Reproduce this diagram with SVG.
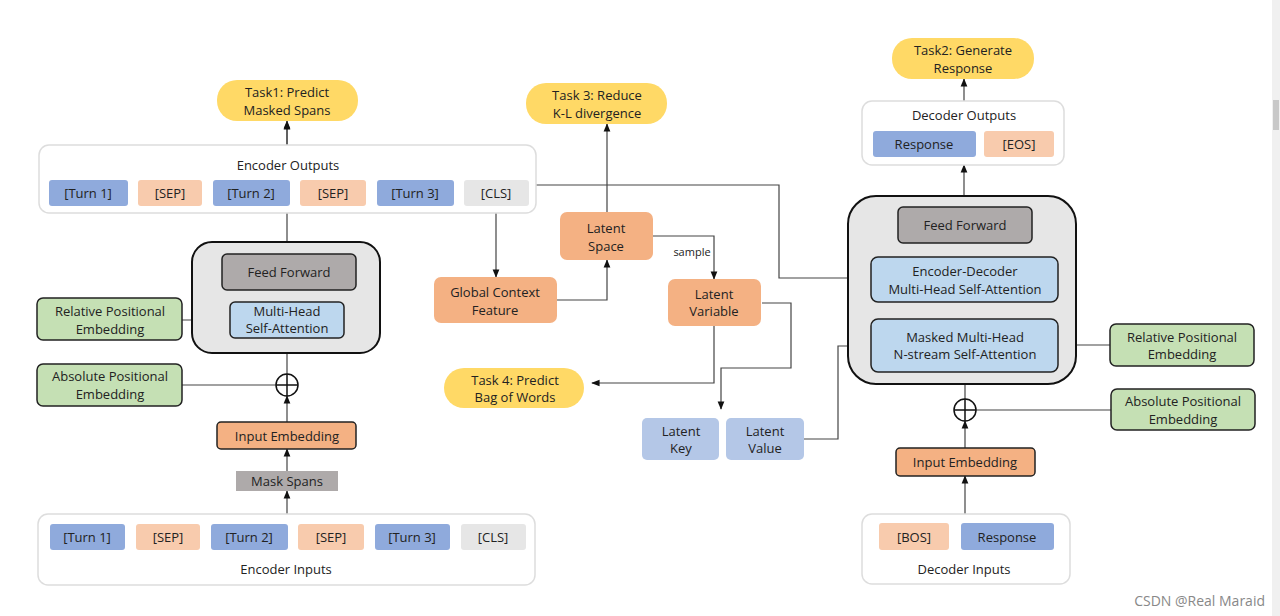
<svg xmlns="http://www.w3.org/2000/svg" width="1280" height="616" viewBox="0 0 1280 616">
<style>
text{font-family:"Open Sans","Liberation Sans",sans-serif;font-size:13px;fill:#222;text-anchor:middle;dominant-baseline:central}
.task{fill:#FFD966}
.tok-b{fill:#8FAADC}.tok-o{fill:#F8CBAD}.tok-g{fill:#E6E6E6}
.frame{fill:#fff;stroke:#DDD;stroke-width:1.5}
.blk{fill:#E6E6E6;stroke:#111;stroke-width:2}
.ff{fill:#AEAAAA;stroke:#222;stroke-width:1.5}
.att{fill:#BDD7EE;stroke:#222;stroke-width:1.5}
.pos{fill:#C5E0B4;stroke:#222;stroke-width:1.5}
.emb{fill:#F4B183;stroke:#222;stroke-width:1.5}
.lat{fill:#F4B183}
.kv{fill:#B4C7E7}
.ln{fill:none;stroke:#444;stroke-width:1.2}
</style>
<defs><marker id="a" viewBox="0 0 10 10" refX="9" refY="5" markerWidth="7" markerHeight="7" orient="auto"><path d="M0,1 L10,5 L0,9z" fill="#111"/></marker></defs>
<rect width="1280" height="616" fill="#fff"/>
<rect x="1272" y="0" width="8" height="616" fill="#F0F0F0"/>
<rect x="1273" y="100" width="6" height="30" fill="#C8C8C8"/>

<g id="connectors">
<path class="ln" d="M287,242 V213 M287,145 V121" marker-end="url(#a)"/>
<path class="ln" d="M287,145 V122" marker-end="url(#a)"/>
<path class="ln" d="M287,290 V302"/>
<path class="ln" d="M182,320 H230"/>
<path class="ln" d="M182,385 H276"/>
<path class="ln" d="M287,374 V338" marker-end="url(#a)"/>
<path class="ln" d="M287,422 V396" marker-end="url(#a)"/>
<path class="ln" d="M287,471 V449" marker-end="url(#a)"/>
<path class="ln" d="M287,514 V491" marker-end="url(#a)"/>
<path class="ln" d="M496,206 V277" marker-end="url(#a)"/>
<path class="ln" d="M557,300 H607 V260" marker-end="url(#a)"/>
<path class="ln" d="M607,212 V124" marker-end="url(#a)"/>
<path class="ln" d="M529,185 H779 V278 H871" marker-end="url(#a)"/>
<path class="ln" d="M653,236 H714 V279" marker-end="url(#a)"/>
<path class="ln" d="M714,326 V383 H592" marker-end="url(#a)"/>
<path class="ln" d="M762,303 H791 V368 H721 V409" marker-end="url(#a)"/>
<path class="ln" d="M804,439 H838 V346 H871" marker-end="url(#a)"/>
<path class="ln" d="M965,243 V257 M965,302 V319"/>
<path class="ln" d="M1058,345 H1110"/>
<path class="ln" d="M976,410 H1111"/>
<path class="ln" d="M965,399 V372" marker-end="url(#a)"/>
<path class="ln" d="M965,448 V421" marker-end="url(#a)"/>
<path class="ln" d="M965,514 V476" marker-end="url(#a)"/>
<path class="ln" d="M964,196 V165" marker-end="url(#a)"/>
<path class="ln" d="M964,101 V79" marker-end="url(#a)"/>
</g>

<g id="task1"><rect class="task" x="217" y="80" width="141" height="41" rx="20"/><text x="287" y="92">Task1: Predict</text><text x="287" y="110">Masked Spans</text></g>
<g id="encoder-outputs"><rect class="frame" x="39" y="145" width="497" height="68" rx="10"/><text x="288" y="165">Encoder Outputs</text>
<rect class="tok-b" x="49" y="180" width="79" height="26" rx="3"/><text x="88" y="193">[Turn 1]</text>
<rect class="tok-o" x="138" y="180" width="64" height="26" rx="3"/><text x="170" y="193">[SEP]</text>
<rect class="tok-b" x="213" y="180" width="77" height="26" rx="3"/><text x="251" y="193">[Turn 2]</text>
<rect class="tok-o" x="300" y="180" width="66" height="26" rx="3"/><text x="333" y="193">[SEP]</text>
<rect class="tok-b" x="377" y="180" width="77" height="26" rx="3"/><text x="415" y="193">[Turn 3]</text>
<rect class="tok-g" x="464" y="180" width="65" height="26" rx="3"/><text x="496" y="193">[CLS]</text></g>
<g id="encoder-block"><rect class="blk" x="192" y="242" width="188" height="111" rx="20"/>
<rect class="ff" x="222" y="254" width="134" height="36" rx="5"/><text x="289" y="272">Feed Forward</text>
<rect class="att" x="230" y="302" width="114" height="36" rx="5"/><text x="287" y="311">Multi-Head</text><text x="287" y="328">Self-Attention</text></g>
<g id="enc-rel"><rect class="pos" x="37" y="298" width="145" height="42" rx="6"/><text x="110" y="311">Relative Positional</text><text x="110" y="329">Embedding</text></g>
<g id="enc-abs"><rect class="pos" x="37" y="364" width="145" height="42" rx="6"/><text x="110" y="376">Absolute Positional</text><text x="110" y="394">Embedding</text></g>
<g id="enc-plus"><circle cx="287" cy="385" r="11" fill="#fff" stroke="#111" stroke-width="1.5"/><path d="M276,385 H298 M287,374 V396" stroke="#111" stroke-width="1.5"/></g>
<g id="enc-input-emb"><rect class="emb" x="217" y="422" width="139" height="27" rx="4"/><text x="287" y="436">Input Embedding</text></g>
<g id="mask-spans"><rect fill="#AEAAAA" x="236" y="471" width="102" height="20"/><text x="287" y="481">Mask Spans</text></g>
<g id="encoder-inputs"><rect class="frame" x="38" y="514" width="497" height="71" rx="10"/>
<rect class="tok-b" x="50" y="524" width="75" height="26" rx="3"/><text x="87" y="537">[Turn 1]</text>
<rect class="tok-o" x="136" y="524" width="64" height="26" rx="3"/><text x="168" y="537">[SEP]</text>
<rect class="tok-b" x="211" y="524" width="77" height="26" rx="3"/><text x="249" y="537">[Turn 2]</text>
<rect class="tok-o" x="298" y="524" width="66" height="26" rx="3"/><text x="331" y="537">[SEP]</text>
<rect class="tok-b" x="375" y="524" width="75" height="26" rx="3"/><text x="412" y="537">[Turn 3]</text>
<rect class="tok-g" x="461" y="524" width="65" height="26" rx="3"/><text x="493" y="537">[CLS]</text>
<text x="286" y="569">Encoder Inputs</text></g>

<g id="global-context"><rect class="lat" x="434" y="277" width="123" height="46" rx="7"/><text x="495" y="292">Global Context</text><text x="495" y="310">Feature</text></g>
<g id="latent-space"><rect class="lat" x="560" y="212" width="93" height="48" rx="7"/><text x="606" y="228">Latent</text><text x="606" y="246">Space</text></g>
<text x="692" y="251" style="font-size:11px">sample</text>
<g id="task3"><rect class="task" x="526" y="83" width="141" height="41" rx="20"/><text x="597" y="95">Task 3: Reduce</text><text x="597" y="113">K-L divergence</text></g>
<g id="latent-variable"><rect class="lat" x="668" y="279" width="93" height="47" rx="7"/><text x="714" y="294">Latent</text><text x="714" y="311">Variable</text></g>
<g id="task4"><rect class="task" x="444" y="368" width="140" height="40" rx="20"/><text x="515" y="380">Task 4: Predict</text><text x="515" y="397">Bag of Words</text></g>
<g id="latent-key"><rect class="kv" x="642" y="418" width="77" height="42" rx="5"/><text x="681" y="431">Latent</text><text x="681" y="448">Key</text></g>
<g id="latent-value"><rect class="kv" x="726" y="418" width="78" height="42" rx="5"/><text x="765" y="431">Latent</text><text x="765" y="448">Value</text></g>

<g id="task2"><rect class="task" x="892" y="38" width="142" height="41" rx="20"/><text x="963" y="50">Task2: Generate</text><text x="963" y="68">Response</text></g>
<g id="decoder-outputs"><rect class="frame" x="862" y="101" width="202" height="64" rx="10"/><text x="964" y="115">Decoder Outputs</text>
<rect class="tok-b" x="873" y="131" width="103" height="26" rx="3"/><text x="924" y="144">Response</text>
<rect class="tok-o" x="984" y="131" width="70" height="26" rx="3"/><text x="1019" y="144">[EOS]</text></g>
<g id="decoder-block"><rect class="blk" x="848" y="196" width="228" height="188" rx="28"/>
<rect class="ff" x="898" y="207" width="134" height="36" rx="5"/><text x="965" y="225">Feed Forward</text>
<rect class="att" x="871" y="257" width="187" height="45" rx="7"/><text x="965" y="271">Encoder-Decoder</text><text x="965" y="289">Multi-Head Self-Attention</text>
<rect class="att" x="871" y="319" width="187" height="53" rx="7"/><text x="965" y="337">Masked Multi-Head</text><text x="965" y="354">N-stream Self-Attention</text></g>
<g id="dec-rel"><rect class="pos" x="1110" y="324" width="144" height="42" rx="6"/><text x="1182" y="337">Relative Positional</text><text x="1182" y="354">Embedding</text></g>
<g id="dec-abs"><rect class="pos" x="1111" y="389" width="144" height="41" rx="6"/><text x="1183" y="401">Absolute Positional</text><text x="1183" y="419">Embedding</text></g>
<g id="dec-plus"><circle cx="965" cy="410" r="11" fill="#fff" stroke="#111" stroke-width="1.5"/><path d="M954,410 H976 M965,399 V421" stroke="#111" stroke-width="1.5"/></g>
<g id="dec-input-emb"><rect class="emb" x="896" y="448" width="139" height="28" rx="4"/><text x="965" y="462">Input Embedding</text></g>
<g id="decoder-inputs"><rect class="frame" x="862" y="514" width="208" height="70" rx="10"/>
<rect class="tok-o" x="879" y="523" width="70" height="27" rx="3"/><text x="914" y="537">[BOS]</text>
<rect class="tok-b" x="961" y="523" width="93" height="27" rx="3"/><text x="1007" y="537">Response</text>
<text x="964" y="569">Decoder Inputs</text></g>
<text x="1265" y="600" style="font-size:14px;fill:#888;text-anchor:end">CSDN @Real Maraid</text>
</svg>
